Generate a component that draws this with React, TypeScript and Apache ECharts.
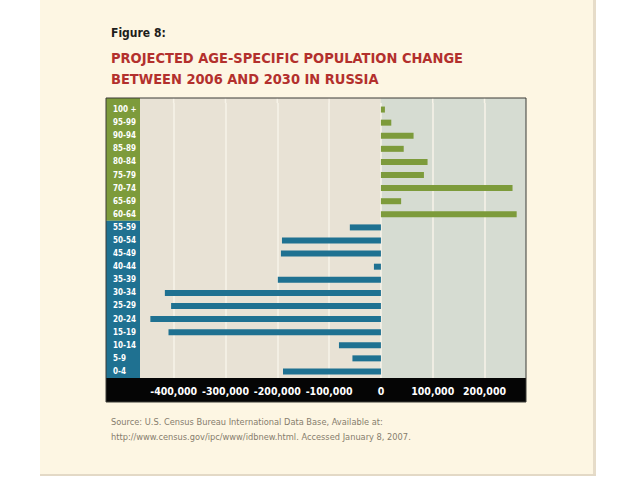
import React, { useEffect, useRef } from "react";
import * as echarts from "echarts";

// Age groups, oldest at the top
const ageGroups = [
  "100 +", "95-99", "90-94", "85-89", "80-84", "75-79", "70-74", "65-69", "60-64",
  "55-59", "50-54", "45-49", "40-44", "35-39", "30-34", "25-29", "20-24", "15-19",
  "10-14", "5-9", "0-4",
];

// Projected change in population, 2006 to 2030
const change = [
  7700, 20000, 63000, 44000, 90000, 83000, 254000, 39000, 262000,
  -60000, -191000, -193000, -13500, -199000, -417000, -405000, -445000, -410000,
  -81000, -55000, -189000,
];

const tickValues = [-400000, -300000, -200000, -100000, 0, 100000, 200000];
const xMin = -465000;
const xMax = 280000;

const figureLabel = "Figure 8:";
const titleText = "PROJECTED AGE-SPECIFIC POPULATION CHANGE\nBETWEEN 2006 AND 2030 IN RUSSIA";
const sourceText =
  "Source: U.S. Census Bureau International Data Base, Available at:\nhttp://www.census.gov/ipc/www/idbnew.html. Accessed January 8, 2007.";

const GREEN = "#7d9b3b";
const BLUE = "#1f7191";
const BEIGE = "#e8e2d5";
const SAGE = "#d6dcd2";
const CREAM = "#fdf6e3";
const GRID_LINE = "#f7f3e8";
const FONT = "'DejaVu Sans Condensed', 'Liberation Sans Narrow', 'Roboto', sans-serif";

// Plot layout (pixels)
const PLOT = { left: 140, right: 526, top: 103, bottom: 378 };
const FRAME_LEFT = 106;
const FRAME_TOP = 98;
const BAND_BOTTOM = 402;

const isSenior = ageGroups.map((g) => parseInt(g, 10) >= 60);

const fmt = (v: number) => {
  const s = Math.abs(v).toLocaleString("en-US");
  return v < 0 ? "-" + s : s;
};

export default function App() {
  const ref = useRef<HTMLDivElement>(null);

  useEffect(() => {
    if (!ref.current) return;
    const chart = echarts.init(ref.current, null, { renderer: "svg" });

    const option: any = {
      animation: false,
      title: [
        {
          text: figureLabel,
          left: 106,
          top: 22,
          textStyle: { fontFamily: FONT, fontSize: 12, fontWeight: "bold", color: "#1d1d1b" },
        },
        {
          text: titleText,
          left: 106,
          top: 42,
          textStyle: {
            fontFamily: FONT,
            fontSize: 14.5,
            fontWeight: "bold",
            color: "#b3302d",
            lineHeight: 21,
          },
        },
        {
          text: sourceText,
          left: 106,
          top: 409,
          textStyle: {
            fontFamily: FONT,
            fontSize: 9.2,
            fontWeight: "normal",
            color: "#867d6d",
            lineHeight: 15,
          },
        },
      ],
      grid: {
        left: PLOT.left,
        right: 638 - PLOT.right,
        top: PLOT.top,
        bottom: 478 - PLOT.bottom,
      },
      xAxis: {
        type: "value",
        min: xMin,
        max: xMax,
        axisLine: { show: false },
        axisTick: { show: false, customValues: tickValues },
        axisLabel: {
          customValues: tickValues,
          formatter: (v: number) => fmt(v),
          color: "#ffffff",
          fontFamily: FONT,
          fontWeight: "bold",
          fontSize: 10.5,
          margin: 7,
        },
        splitLine: { show: true, lineStyle: { color: GRID_LINE, width: 1.5 } },
      },
      yAxis: {
        type: "category",
        inverse: true,
        data: ageGroups,
        axisLine: { show: false },
        axisTick: { show: false },
        axisLabel: {
          color: "#ffffff",
          fontFamily: FONT,
          fontWeight: "bold",
          fontSize: 8,
          align: "left",
          margin: PLOT.left - 113,
        },
      },
      series: [
        {
          type: "bar",
          data: change.map((v, i) => ({
            value: v,
            itemStyle: { color: isSenior[i] ? GREEN : BLUE },
          })),
          barWidth: 6,
          z: 3,
        },
      ],
    };
    chart.setOption(option);

    // Backgrounds and frame placed from the axis scales
    const zeroX = chart.convertToPixel({ xAxisIndex: 0 }, 0) as number;
    const ySenior = chart.convertToPixel({ yAxisIndex: 0 }, "60-64") as number;
    const yYoung = chart.convertToPixel({ yAxisIndex: 0 }, "55-59") as number;
    const splitY = (ySenior + yYoung) / 2;
    const gridXs = tickValues
      .filter((v) => v !== 0)
      .map((v) => chart.convertToPixel({ xAxisIndex: 0 }, v) as number);

    const graphic: any[] = [
      // page panel and its edge shading
      { type: "rect", z: -20, shape: { x: 40, y: 0, width: 553, height: 474 }, style: { fill: CREAM } },
      { type: "rect", z: -20, shape: { x: 593, y: 0, width: 3, height: 476 }, style: { fill: "#e6dcc9" } },
      { type: "rect", z: -20, shape: { x: 40, y: 474, width: 556, height: 2 }, style: { fill: "#e3d9c6" } },
      // plot backgrounds: losses on beige, gains on sage
      {
        type: "rect",
        z: -10,
        shape: { x: PLOT.left, y: FRAME_TOP, width: zeroX - PLOT.left, height: PLOT.bottom - FRAME_TOP },
        style: { fill: BEIGE },
      },
      {
        type: "rect",
        z: -10,
        shape: { x: zeroX, y: FRAME_TOP, width: PLOT.right - zeroX, height: PLOT.bottom - FRAME_TOP },
        style: { fill: SAGE },
      },
      // grid lines through the top padding strip
      ...gridXs.map((x) => ({
        type: "line",
        z: -9,
        shape: { x1: x, y1: FRAME_TOP, x2: x, y2: PLOT.top },
        style: { stroke: GRID_LINE, lineWidth: 1.5 },
      })),
      // age label column
      {
        type: "rect",
        z: -10,
        shape: { x: FRAME_LEFT, y: FRAME_TOP, width: PLOT.left - FRAME_LEFT, height: splitY - FRAME_TOP },
        style: { fill: GREEN },
      },
      {
        type: "rect",
        z: -10,
        shape: { x: FRAME_LEFT, y: splitY, width: PLOT.left - FRAME_LEFT, height: PLOT.bottom - splitY },
        style: { fill: BLUE },
      },
      // value axis band
      {
        type: "rect",
        z: -10,
        shape: { x: FRAME_LEFT, y: PLOT.bottom, width: PLOT.right - FRAME_LEFT, height: BAND_BOTTOM - PLOT.bottom },
        style: { fill: "#050505" },
      },
      // frame outline
      {
        type: "rect",
        z: 10,
        shape: { x: FRAME_LEFT, y: FRAME_TOP, width: PLOT.right - FRAME_LEFT, height: BAND_BOTTOM - FRAME_TOP },
        style: { fill: "none", stroke: "#3a3a36", lineWidth: 1 },
      },
    ];
    chart.setOption({ graphic });

    return () => chart.dispose();
  }, []);

  return (
    <div
      ref={ref}
      style={{ position: "absolute", left: 0, top: 0, width: 638, height: 478, background: "#ffffff" }}
    />
  );
}
